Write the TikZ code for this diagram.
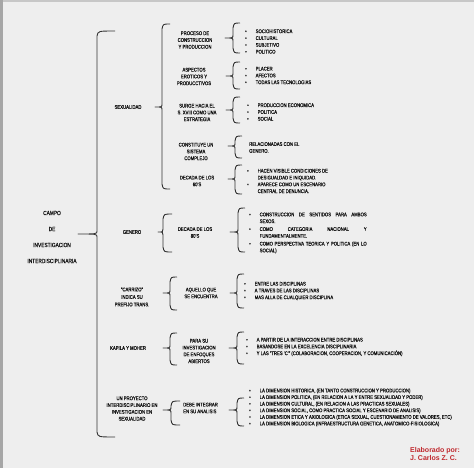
\documentclass[tikz,border=0pt]{standalone}
\usepackage{fontspec}
\setmainfont{Liberation Sans}[FakeStretch=0.8,FakeBold=0.35]
\newfontfamily\creditfont{Liberation Sans}
\definecolor{ink}{HTML}{111111}
\definecolor{paper}{HTML}{EEEEEE}
\definecolor{credred}{HTML}{C0282D}
\newcommand{\bul}{\makebox[10.5pt][l]{\textbullet}}
\newcommand{\ind}{\hspace*{10.5pt}}
% hook, tip, x, top, bottom, tip y
\newcommand{\brc}[6]{%
  \draw[brcline] (#3+#1,#4) .. controls (#3+1,#4) .. (#3,#4+5) -- (#3,#6-3)
    .. controls (#3,#6) .. (#3-#2,#6) .. controls (#3,#6) .. (#3,#6+3)
    -- (#3,#5-5) .. controls (#3+1,#5) .. (#3+#1,#5);}
\begin{document}
\begin{tikzpicture}[x=1pt,y=-1pt,
  txt/.style={inner sep=0pt, align=center, text=ink, font=\fontsize{5.3}{6.8}\selectfont},
  lst/.style={inner sep=0pt, align=left, anchor=west, text=ink, font=\fontsize{5.3}{6.8}\selectfont},
  brcline/.style={draw=black!80, line width=0.9pt, line join=round}]
\useasboundingbox (0,0) rectangle (474,471);
\fill[paper] (0,0) rectangle (474,468);
\fill[white] (0,468) rectangle (474,471);
\fill[black!22] (0,0) rectangle (474,2);
\fill[black!35] (0,0) rectangle (3,468);

% root
\node[txt, font=\fontsize{6}{16}\selectfont] (campo) at (52,237) {CAMPO\\DE\\INVESTIGACION\\INTERDISCIPLINARIA};
\brc{18}{19}{97}{31}{437}{234}

% first level
\node[txt] (sex) at (128,107) {SEXUALIDAD};
\node[txt] (gen) at (132,232) {GENERO};
\node[txt, font=\fontsize{5.3}{7.5}\selectfont] (carr) at (132,297) {"CARRIZO"\\INDICA SU\\PREFIJO TRANS.};
\node[txt] (kap) at (128,348) {KAPILA Y MOHER};
\node[txt] (proy) at (132,408.5) {UN PROYECTO\\INTERDISCIPLINARIO EN\\INVESTIGACION EN\\SEXUALIDAD};
\brc{8}{7}{162}{24}{189}{107}
\brc{9}{5}{163}{214}{252}{232}
\brc{7}{7}{170}{277}{310}{293}
\brc{7}{7}{170}{333}{365}{348}
\brc{9}{8}{171}{401}{425}{410}

% second level
\node[txt] (proc) at (195,40) {PROCESO DE\\CONSTRUCCION\\Y PRODUCCION};
\node[txt] (asp) at (194,76.5) {ASPECTOS\\EROTICOS Y\\PRODUCCTIVOS};
\node[txt] (surg) at (197,112.5) {SURGE HACIA EL\\S. XVIII COMO UNA\\ESTRATEGIA};
\node[txt] (cons) at (196,151.5) {CONSTITUYE UN\\SISTEMA\\COMPLEJO};
\node[txt] (dec6) at (197,181) {DECADA DE LOS\\60'S};
\node[txt] (dec8) at (195,232.5) {DECADA DE LOS\\80'S};
\node[txt] (aqu) at (201,293) {AQUELLO QUE\\SE ENCUENTRA};
\node[txt] (para) at (199,351) {PARA SU\\INVESTIGACION\\DE ENFOQUES\\ABIERTOS};
\node[txt, align=left, anchor=west] (debe) at (183,408) {DEBE INTEGRAR\\EN SU ANALISIS};
\brc{7}{8}{233}{23}{53}{38}
\brc{7}{7}{233}{62}{89}{76}
\brc{7}{7}{233}{97}{123}{110}
\brc{7}{7}{235}{136}{158}{146}
\brc{7}{7}{235}{165}{194}{179}
\brc{7}{8}{238}{208}{252}{232}
\brc{7}{7}{237}{274}{308}{293}
\brc{7}{8}{237}{332}{364}{348}
\brc{7}{8}{237}{398}{426}{410}

% third level
\node[lst] (l1) at (245,41.5) {\bul SOCIOHISTORICA\\\bul CULTURAL\\\bul SUBJETIVO\\\bul POLITICO};
\node[lst] (l2) at (245,75.5) {\bul PLACER\\\bul AFECTOS\\\bul TODAS LAS TECNOLOGIAS};
\node[lst] (l3) at (247,112) {\bul PRODUCCION ECONOMICA\\\bul POLITICA\\\bul SOCIAL};
\node[lst] (l4) at (249,147.5) {RELACIONADAS CON EL\\GENERO.};
\node[lst] (l5) at (247,181) {\bul HACEN VISIBLE CONDICIONES DE\\\ind DESIGUALDAD E INIQUIDAD.\\\bul APARECE COMO UN ESCENARIO\\\ind CENTRAL DE DENUNCIA.};
\node[lst] (l6) at (249,233) {\bul\makebox[107pt][s]{CONSTRUCCION DE SENTIDOS PARA AMBOS}\\\ind SEXOS.\\[1pt]
  \bul\makebox[107pt][s]{COMO CATEGORIA NACIONAL Y}\\\ind FUNDAMENTALMENTE.\\[1pt]
  \bul\makebox[107pt][s]{COMO PERSPECTIVA TEORICA Y POLITICA (EN LO}\\\ind SOCIAL)};
\node[lst] (l7) at (244,291) {\bul ENTRE LAS DISCIPLINAS\\\bul A TRAVES DE LAS DISCIPLINAS\\\bul MAS ALLA DE CUALQUIER DISCIPLINA};
\node[lst] (l8) at (246,347) {\bul A PARTIR DE LA INTERACCION ENTRE DISCIPLINAS\\\bul BASANDOSE EN LA EXCELENCIA DISCIPLINARIA\\\bul Y LAS "TRES 'C'" (COLABORACION, COOPERACION, Y COMUNICACIÓN)};
\node[lst, font=\fontsize{5.3}{6.6}\selectfont] (l9) at (249,407.5) {\bul LA DIMENSION HISTORICA, (EN TANTO CONSTRUCCION Y PRODUCCION)\\
  \bul LA DIMENSION POLITICA, (EN RELACION A LA Y ENTRE SEXUALIDAD Y PODER)\\
  \bul LA DIMENSION CULTURAL, (EN RELACION A LAS PRACTICAS SEXUALES)\\
  \bul LA DIMENSION SOCIAL, COMO PRACTICA SOCIAL Y ESCENARIO DE ANALISIS)\\
  \bul LA DIMENSION ETICA Y AXIOLOGICA (ETICA SEXUAL, CUESTIONAMIENTO DE VALORES, ETC)\\
  \bul LA DIMENSION BIOLOGICA (INFRAESTRUCTURA GENETICA, ANATOMICO-FISIOLOGICA)};

% credit
\node[inner sep=0pt, align=left, anchor=west, text=credred, font=\creditfont\bfseries\fontsize{7}{8}\selectfont] (cred) at (410,454) {Elaborado por:\\J. Carlos Z. C.};
\end{tikzpicture}
\end{document}
